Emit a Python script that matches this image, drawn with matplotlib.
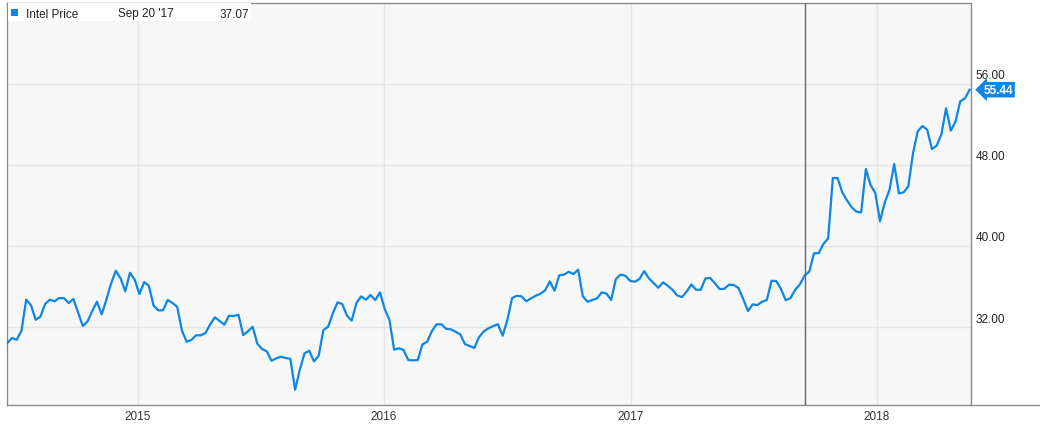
import matplotlib
matplotlib.use("Agg")
from matplotlib import pyplot as plt
from matplotlib.lines import Line2D
from matplotlib.patches import Rectangle
import pandas as pd

plt.rcParams['font.family'] = ['Liberation Sans', 'DejaVu Sans']

# weekly closing prices
start_date = "2014-06-21"
prices = [
    30.42, 30.91, 30.75, 31.64, 34.70, 34.17, 32.72, 33.02, 34.27, 34.70,
    34.54, 34.86, 34.86, 34.37, 34.77, 33.45, 32.10, 32.56, 33.58, 34.50,
    33.25, 34.70, 36.31, 37.56, 36.81, 35.53, 37.36, 36.67, 35.26, 36.44,
    36.08, 34.11, 33.65, 33.65, 34.67, 34.37, 34.01, 31.67, 30.55, 30.72,
    31.18, 31.18, 31.41, 32.27, 32.96, 32.59, 32.23, 33.12, 33.09, 33.22,
    31.21, 31.57, 32.03, 30.35, 29.83, 29.60, 28.67, 28.91, 29.07, 28.94,
    28.87, 25.81, 27.78, 29.40, 29.66, 28.61, 29.17, 31.70, 32.03, 33.35,
    34.44, 34.27, 33.12, 32.63, 34.37, 35.03, 34.70, 35.16, 34.67, 35.42,
    33.78, 32.69, 29.76, 29.90, 29.73, 28.74, 28.71, 28.74, 30.29, 30.55,
    31.60, 32.27, 32.27, 31.83, 31.77, 31.54, 31.28, 30.32, 30.12, 29.93,
    31.01, 31.57, 31.87, 32.10, 32.27, 31.14, 32.69, 34.86, 35.09, 35.03,
    34.54, 34.83, 35.09, 35.29, 35.62, 36.51, 35.59, 37.11, 37.17, 37.46,
    37.23, 37.66, 35.03, 34.50, 34.67, 34.83, 35.42, 35.31, 34.67, 36.74,
    37.17, 37.07, 36.57, 36.47, 36.74, 37.53, 36.81, 36.35, 35.88, 36.41,
    36.08, 35.68, 35.12, 34.96, 35.49, 36.21, 35.68, 35.68, 36.81, 36.84,
    36.31, 35.75, 35.78, 36.18, 36.15, 35.85, 34.77, 33.58, 34.24, 34.17,
    34.50, 34.67, 36.57, 36.54, 35.75, 34.65, 34.85, 35.67, 36.20, 37.07,
    37.48, 39.28, 39.30, 40.20, 40.76, 46.72, 46.72, 45.30, 44.51, 43.82,
    43.39, 43.32, 47.60, 46.02, 45.23, 42.44, 44.31, 45.53, 48.10, 45.20,
    45.30, 45.89, 49.19, 51.33, 51.85, 51.49, 49.58, 49.91, 51.03, 53.60,
    51.40, 52.28, 54.29, 54.58, 55.44,
]
dates = pd.date_range(start=start_date, periods=len(prices), freq="7D")
cursor_idx = 169
cursor_label = "Sep 20 '17"
years = ["2015", "2016", "2017", "2018"]
yticks = [32, 40, 48, 56]

blue = "#0d86e6"
W, H = 1040, 427
fig = plt.figure(figsize=(W / 100, H / 100), dpi=100)
ax = fig.add_axes([7 / W, 1 - 405.5 / H, (971 - 7) / W, (405.5 - 4) / H])
ax.set_facecolor("#f7f7f7")

ax.plot(dates, prices, color=blue, lw=1.6, zorder=3, solid_joinstyle="round")
ax.axvline(dates[cursor_idx], color="#666666", lw=1, zorder=4)

ax.set_ylim(24.35, 64.0)
ax.set_xlim(dates[0] - pd.Timedelta(days=0.5), dates[-1] + pd.Timedelta(days=2))

ax.set_yticks(yticks)
ax.set_yticklabels([])
ax.set_xticks([pd.Timestamp(y + "-01-01") for y in years])
ax.set_xticklabels(years, fontsize=8.5, color="#333333")
ax.tick_params(length=0, pad=4)
ax.grid(True, color="#e4e4e4", lw=1)
ax.set_axisbelow(True)

for s in ["left", "bottom", "right", "top"]:
    ax.spines[s].set_color("#8c8c8c")
    ax.spines[s].set_linewidth(1)

yt = ax.get_yaxis_transform()
for v in yticks:
    ax.text(1.005, v + 0.25, f"{v:.2f}", transform=yt, fontsize=8.5,
            color="#222222", va="bottom", ha="left")

# last price tag
ax.text(1.013, prices[-1], f"{prices[-1]:.2f}", transform=yt, fontsize=8.5,
        color="white", fontweight="bold", va="center", ha="left",
        bbox=dict(boxstyle="larrow,pad=0.15", fc=blue, ec="none"), clip_on=False)

# frame extension to the right of the plot
fig.add_artist(Line2D([971 / W, 1], [1 - 405.5 / H] * 2, color="#8c8c8c", lw=1))

# legend box
fig.add_artist(Rectangle((8 / W, 1 - 22 / H), 243 / W, 18 / H, transform=fig.transFigure,
                         fc="white", ec="none", zorder=5))
fig.add_artist(Rectangle((11 / W, 1 - 17 / H), 7 / W, 7 / H, transform=fig.transFigure,
                         fc=blue, ec="none", zorder=6))
base = 1 - 17.5 / H
fig.text(26 / W, base, "Intel Price", fontsize=8.5, color="#222222", va="baseline", zorder=6)
fig.text(118 / W, base, cursor_label, fontsize=8.5, color="#222222", va="baseline", zorder=6)
fig.text(220 / W, base, f"{prices[cursor_idx]:.2f}", fontsize=8.5, color="#222222",
         va="baseline", zorder=6)

fig.savefig("out.png", dpi=100)
